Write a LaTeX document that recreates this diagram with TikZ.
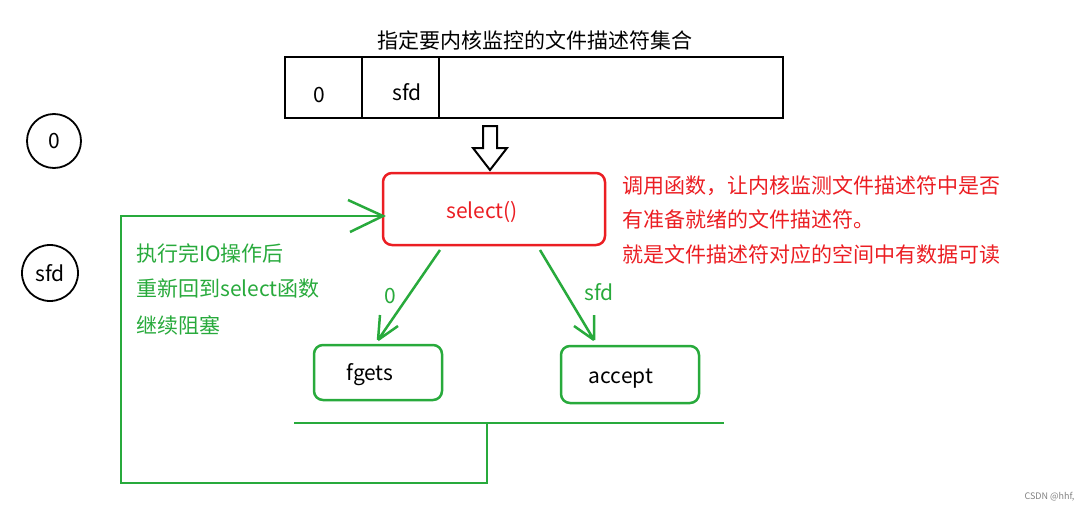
\documentclass[tikz,border=0pt]{standalone}
\usepackage{fontspec}
\setmainfont{Noto Sans CJK SC}
\begin{document}
\begin{tikzpicture}[x=1pt,y=-1pt,
  box/.style={draw=#1,line width=2.5pt,rounded corners=9pt},
  t/.style={font=\fontsize{21}{24}\selectfont,inner sep=0pt}]
\useasboundingbox (0,0) rectangle (1084,511);
\definecolor{gg}{RGB}{40,170,60}
\definecolor{rr}{RGB}{235,30,35}
\node[t,anchor=center] (title) at (535,40) {指定要内核监控的文件描述符集合};
\draw[line width=2.5pt] (285,57) rectangle (783,118);
\draw[line width=2.5pt] (362,57)--(362,118) (439,57)--(439,118);
\node[t] (z) at (319,95) {0};
\node[t] (s) at (407,92) {sfd};
\draw[line width=2pt] (483,126)--(497,126)--(497,148)--(507,148)--(490,170)--(473,148)--(483,148)--cycle;
\draw[line width=1.8pt] (54,141) circle (27);
\node[t] (c0) at (54,141) {0};
\draw[line width=1.8pt] (50,273) circle (28);
\node[t] (c1) at (50,273) {sfd};
\draw[box=rr] (383,173) rectangle (605,245);
\node[t,text=rr] (sel) at (482,212) {select()};
\node[t,text=rr,anchor=west] (r1) at (622,186) {调用函数，让内核监测文件描述符中是否};
\node[t,text=rr,anchor=west] (r2) at (622,219) {有准备就绪的文件描述符。};
\node[t,text=rr,anchor=west] (r3) at (622,255) {就是文件描述符对应的空间中有数据可读};
\draw[box=gg] (314,345) rectangle (442,400);
\node[t] (f) at (370,375) {fgets};
\draw[box=gg] (561,346) rectangle (699,403);
\node[t] (a) at (621,379) {accept};
\coordinate (s1) at (440,250); \coordinate (e1) at (378,340);
\coordinate (s2) at (540,250); \coordinate (e2) at (594,340);
\draw[draw=gg,line width=2.5pt] (s1)--(e1) (e1)--++(2,-25) (e1)--++(20,-14);
\draw[draw=gg,line width=2.5pt] (s2)--(e2) (e2)--++(-20,-14) (e2)--++(0,-25);
\node[t,text=gg] (l0) at (390,296) {0};
\node[t,text=gg] (l1) at (599,292) {sfd};
\draw[draw=gg,line width=2.5pt] (294,423)--(724,423) (487,423)--(487,483)--(121,483)--(121,216)--(383,216);
\draw[draw=gg,line width=2.5pt] (348,200)--(383,216)--(350,232);
\node[t,text=gg,anchor=west] (g1) at (136,253) {执行完IO操作后};
\node[t,text=gg,anchor=west] (g2) at (136,289) {重新回到select函数};
\node[t,text=gg,anchor=west] (g3) at (136,325) {继续阻塞};
\node[font=\fontsize{9}{10}\selectfont,text=gray,anchor=east] (cs) at (1078,497) {CSDN @hhf,};
\end{tikzpicture}
\end{document}
